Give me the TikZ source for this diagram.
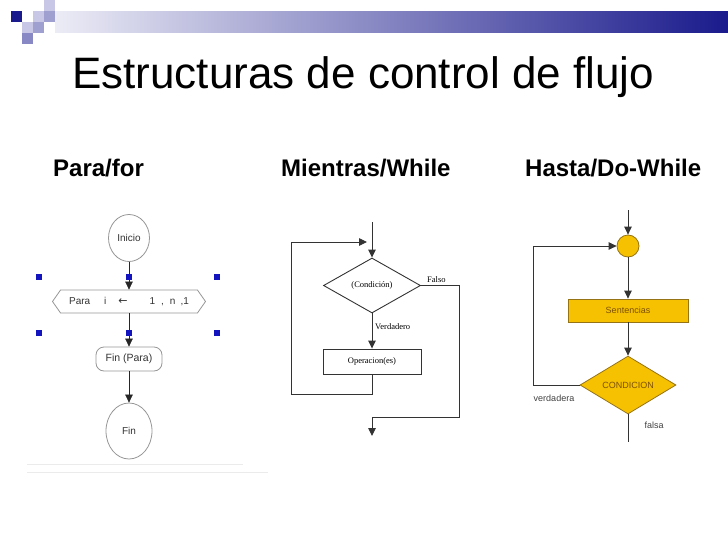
\documentclass[tikz,border=0pt]{standalone}
\usepackage{fontspec}
\setmainfont{Liberation Sans}
\newfontfamily\timesfont{Liberation Serif}
\newfontfamily\arrowfont{DejaVu Sans}
\usetikzlibrary{arrows.meta}
\usetikzlibrary{shapes.geometric, shapes.symbols}
\definecolor{navy}{RGB}{26,26,140}
\definecolor{barlight}{RGB}{236,236,246}
\definecolor{sqlight}{RGB}{200,200,230}
\definecolor{sqmid}{RGB}{160,160,208}
\definecolor{sqdark}{RGB}{136,136,196}
\definecolor{handleblue}{RGB}{20,20,190}
\definecolor{gold}{RGB}{245,193,0}
\definecolor{goldline}{RGB}{150,115,20}
\definecolor{goldtext}{RGB}{125,80,0}
\definecolor{boxgray}{RGB}{150,150,150}
\tikzset{
	flow/.style={-{Triangle[length=8pt, width=7.5pt]}},
	plainline/.style={draw=black!80, line width=0.9pt},
	header/.style={anchor=base west, font=\bfseries\fontsize{24}{28}\selectfont},
	handle/.style={fill=handleblue, minimum size=5.5pt, inner sep=0pt},
	grayell/.style={ellipse, draw=boxgray, line width=0.8pt, font=\fontsize{10}{12}\selectfont, text=black!80, inner sep=0pt},
	hexa/.style={signal, signal to=west and east, signal pointer angle=110, draw=boxgray, line width=0.8pt, minimum width=153pt, minimum height=23pt, inner sep=0pt, font=\fontsize{10}{12}\selectfont, text=black!80},
	roundbox/.style={rectangle, rounded corners=8pt, draw=boxgray, line width=0.8pt, minimum width=66pt, minimum height=24pt, inner sep=0pt, font=\fontsize{10.5}{12}\selectfont, text=black!80},
	serifbox/.style={rectangle, draw=black!80, line width=0.9pt, inner sep=0pt, font=\timesfont\fontsize{8.5}{10}\selectfont},
	seriflabel/.style={font=\timesfont\fontsize{8.5}{10}\selectfont, inner sep=0pt},
	goldshape/.style={fill=gold, draw=goldline, line width=0.8pt, inner sep=0pt, text=goldtext, font=\fontsize{9}{11}\selectfont},
	sanslabel/.style={font=\fontsize{9}{11}\selectfont, text=black!75, inner sep=0pt},
}

\begin{document}
\begin{tikzpicture}[x=1pt, y=-1pt]
	\useasboundingbox (0, 0) rectangle (728, 546);
	% top bar and corner squares
	\shade [left color=barlight, right color=navy] (55, 11) rectangle (728, 32);
	\fill [navy] (11, 11) rectangle (22, 22);
	\fill [sqlight] (44, 0) rectangle (55, 11);
	\fill [sqlight] (33, 11) rectangle (44, 22);
	\fill [sqmid] (44, 11) rectangle (55, 22);
	\fill [sqlight] (22, 22) rectangle (33, 33);
	\fill [sqmid] (33, 22) rectangle (44, 33);
	\fill [sqdark] (22, 33) rectangle (33, 44);

	\node [anchor=base west, inner sep=0pt, font=\fontsize{44}{50}\selectfont] (title) at (72, 88) {Estructuras de control de flujo};
	\node [style=header, inner sep=0pt] (hfor) at (53, 176) {Para/for};
	\node [style=header, inner sep=0pt] (hwhile) at (281, 176) {Mientras/While};
	\node [style=header, inner sep=0pt] (hdo) at (525, 176) {Hasta/Do-While};

	% Para/for
	\node [style=grayell, minimum width=41pt, minimum height=47pt] (inicio) at (129, 238) {Inicio};
	\node [style=hexa] (para) at (129, 301.5) {Para\hspace{14pt}i\hspace{12pt}{\arrowfont\fontsize{11}{10}\selectfont ←}\hspace{22pt}1\hspace{6pt},\hspace{6pt}n\hspace{5pt},1};
	\node [style=roundbox] (finpara) at (129, 359) {Fin (Para)};
	\node [style=grayell, minimum width=46pt, minimum height=56pt] (fin) at (129, 431) {Fin};
	\draw [style=flow, black!85, line width=0.6pt] (inicio.south) to (para.north);
	\draw [style=flow, black!85, line width=0.6pt] (para.south) to (finpara.north);
	\draw [style=flow, black!85, line width=0.6pt] (finpara.south) to (fin.north);
	\node [style=handle] (h1) at (39, 277) {};
	\node [style=handle] (h2) at (129, 277) {};
	\node [style=handle] (h3) at (217, 277) {};
	\node [style=handle] (h4) at (39, 333) {};
	\node [style=handle] (h5) at (129, 333) {};
	\node [style=handle] (h6) at (217, 333) {};
	\draw [black!8, line width=0.8pt] (27, 464) to (243, 464);
	\draw [black!8, line width=0.8pt] (27, 472) to (268, 472);

	% Mientras/While
	\coordinate (wtop) at (372, 222);
	\node [diamond, draw=black!80, line width=0.9pt, minimum width=97pt, minimum height=55pt, inner sep=0pt, font=\timesfont\fontsize{8.5}{10}\selectfont] (cond) at (372, 285.5) {(Condición)};
	\node [style=serifbox, minimum width=98pt, minimum height=25pt] (ops) at (372, 361.5) {Operacion(es)};
	\node [style=seriflabel, anchor=west] (verd) at (375, 327) {Verdadero};
	\node [style=seriflabel, anchor=west] (falso) at (427, 280) {Falso};
	\coordinate (wl1) at (291, 394);
	\coordinate (wl2) at (291, 242);
	\coordinate (wback) at (367, 242);
	\coordinate (wr1) at (459, 285.5);
	\coordinate (wr2) at (459, 417);
	\coordinate (wr3) at (372, 417);
	\coordinate (wend) at (372, 436);
	\draw [style=flow, style=plainline] (wtop) to (cond.north);
	\draw [style=flow, style=plainline] (cond.south) to (ops.north);
	\draw [style=flow, style=plainline] (ops.south) |- (wl1) to (wl2) to (wback);
	\draw [style=flow, style=plainline] (cond.east) to (wr1) to (wr2) to (wr3) to (wend);

	% Hasta/Do-While
	\coordinate (dtop) at (628, 210);
	\node [style=goldshape, circle, minimum size=22pt] (junc) at (628, 246) {};
	\node [style=goldshape, rectangle, minimum width=120pt, minimum height=23pt] (sent) at (628, 310.5) {Sentencias};
	\node [style=goldshape, diamond, minimum width=96pt, minimum height=58pt] (cond2) at (628, 385) {CONDICION};
	\node [style=sanslabel] (verdadera) at (554, 398) {verdadera};
	\node [style=sanslabel] (falsa) at (654, 425) {falsa};
	\coordinate (dl1) at (533, 385);
	\coordinate (dl2) at (533, 246);
	\coordinate (dend) at (628, 442);
	\draw [style=flow, black!80, line width=0.8pt] (dtop) to (junc.north);
	\draw [style=flow, black!80, line width=0.8pt] (junc.south) to (sent.north);
	\draw [style=flow, black!80, line width=0.8pt] (sent.south) to (cond2.north);
	\draw [style=flow, black!80, line width=0.8pt] (cond2.west) to (dl1) to (dl2) to (junc.west);
	\draw [black!80, line width=0.8pt] (cond2.south) to (dend);
\end{tikzpicture}
\end{document}
